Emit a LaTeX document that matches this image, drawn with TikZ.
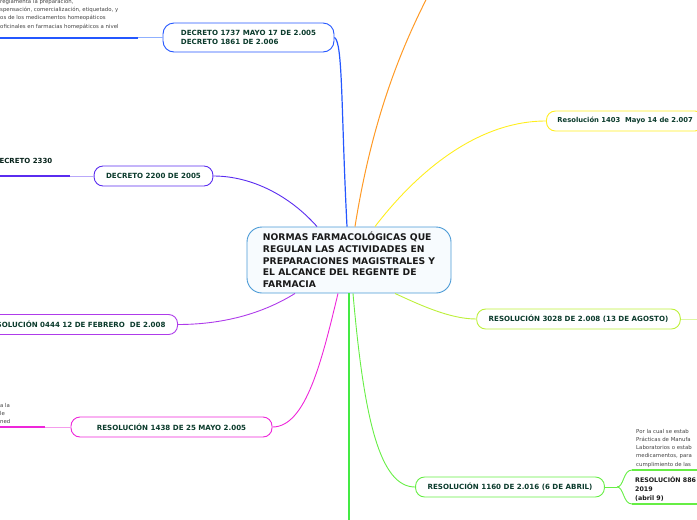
\documentclass[tikz,border=0pt]{standalone}
\usepackage{fontspec}
\setmainfont{DejaVu Sans}
\usetikzlibrary{positioning}
\definecolor{txtgreen}{HTML}{0B3B2C}
\definecolor{centerblue}{HTML}{4A9AD6}
\definecolor{centerfill}{HTML}{F7FBFE}
\definecolor{blueline}{HTML}{2457FF}
\definecolor{bluelight}{HTML}{8FB0FF}
\definecolor{orangeline}{HTML}{FF9A26}
\definecolor{yellowline}{HTML}{FFEE1E}
\definecolor{indigoline}{HTML}{5A2CF0}
\definecolor{indigolight}{HTML}{B9A8FA}
\definecolor{purpleline}{HTML}{AE3BEA}
\definecolor{magentaline}{HTML}{EE26DA}
\definecolor{magentalight}{HTML}{F59CEC}
\definecolor{limeline}{HTML}{BDF03A}
\definecolor{limelight}{HTML}{DDF7A0}
\definecolor{greenline}{HTML}{66EE44}
\definecolor{greenvert}{HTML}{44EA44}
\definecolor{notegray}{HTML}{444444}

\begin{document}
\begin{tikzpicture}[x=1pt,y=-1pt,node distance=2pt,
    topic/.style={draw,rounded corners=9pt,fill=white,line width=0.9pt,
      minimum height=20pt,inner xsep=12pt,text=txtgreen,
      font=\bfseries\fontsize{7.1}{9}\selectfont},
    note/.style={inner sep=0pt,align=left,text=notegray,
      font=\fontsize{5.4}{8.2}\selectfont},
    link/.style={line width=0.9pt},
    under/.style={line width=2pt}]
    \useasboundingbox (0,0) rectangle (697,520);
    \clip (0,0) rectangle (697,520);

    % central topic
    \node[draw=centerblue,fill=centerfill,rounded corners=15pt,line width=0.9pt,
      minimum width=204pt,minimum height=66pt,align=left,text=black!90,
      font=\bfseries\fontsize{9.2}{11.7}\selectfont] (norm) at (349,260)
      {NORMAS FARMACOLÓGICAS QUE\\REGULAN LAS ACTIVIDADES EN\\PREPARACIONES MAGISTRALES Y\\EL ALCANCE DEL REGENTE DE\\FARMACIA};

    % main topics
    \node[topic,draw=blueline,minimum width=171pt,minimum height=29pt,align=left,
      rounded corners=11pt] (d1737) at (248.5,37.5)
      {DECRETO 1737 MAYO 17 DE 2.005\\DECRETO 1861 DE 2.006};
    \node[topic,draw=indigoline,minimum width=117pt] (d2200) at (153.5,176) {DECRETO 2200 DE 2005};
    \node[topic,draw=purpleline,anchor=east] (r0444) at (178,324.5) {RESOLUCIÓN 0444 12 DE FEBRERO\ \ DE 2.008};
    \node[topic,draw=magentaline,minimum width=201pt] (r1438) at (171.5,427) {RESOLUCIÓN 1438 DE 25 MAYO 2.005};
    \node[topic,draw=yellowline,anchor=west,inner xsep=11pt,
      font=\bfseries\fontsize{6.8}{9}\selectfont] (r1403) at (546,121) {Resolución 1403\ \ Mayo 14 de 2.007};
    \node[topic,draw=limeline,minimum width=203pt] (r3028) at (578.5,319) {RESOLUCIÓN 3028 DE 2.008 (13 DE AGOSTO)};
    \node[topic,draw=greenline,minimum width=188pt] (r1160) at (510,487) {RESOLUCIÓN 1160 DE 2.016 (6 DE ABRIL)};

    % branches from the central topic
    \draw[link,blueline,line width=1.2pt] ([xshift=-2pt]norm.north) .. controls (341,110) and (343,42) .. (d1737.east);
    \draw[link,orangeline,line width=1pt] ([xshift=6pt]norm.north) .. controls (372,120) and (400,50) .. (430,-8);
    \draw[link,yellowline] ([xshift=26pt]norm.north) .. controls (420,168) and (480,121) .. (r1403.west);
    \draw[link,indigoline] ([xshift=-32pt]norm.north) .. controls (290,196) and (252,176) .. (d2200.east);
    \draw[link,purpleline] ([xshift=-54pt]norm.south) .. controls (262,314) and (222,324.5) .. (r0444.east);
    \draw[link,magentaline] ([xshift=-11pt]norm.south) .. controls (322,360) and (306,427) .. (r1438.east);
    \draw[link,greenvert,line width=1.3pt] (norm.south) -- (349,530);
    \draw[link,greenline] ([xshift=4pt]norm.south) .. controls (364,420) and (380,487) .. (r1160.west);
    \draw[link,limeline] ([xshift=46pt]norm.south) .. controls (420,305) and (450,319) .. (r3028.west);

    % sub topics, left side
    \coordinate (u1737) at (138,37.5);
    \draw[link,bluelight] (d1737.west) -- (u1737);
    \draw[under,blueline] (u1737) -- (-5,37.5);
    \node[note,anchor=north west] (t1737) at (0,-1)
      {reglamenta la preparación,\\spensación, comercialización, etiquetado, y\\os de los medicamentos homeopáticos\\oficinales en farmacias homepáticos a nivel};

    \coordinate (u2200) at (70,176);
    \draw[link,indigolight] (d2200.west) -- (u2200);
    \draw[under,indigoline] (u2200) -- (-5,176);
    \node[anchor=south west,inner sep=0pt,text=txtgreen!60!black,
      font=\bfseries\fontsize{7}{9}\selectfont] (d2330) at (-6.5,163.5) {DECRETO 2330};

    \coordinate (u1438) at (45,427);
    \draw[link,magentalight] (r1438.west) -- (u1438);
    \draw[under,magentaline] (u1438) -- (-5,427);
    \node[note,anchor=south west] (t1438) at (0,424) {a la\\le\\ned};

    % sub topics, right side
    \draw[link,limelight] (r3028.east) -- (700,319);

    \coordinate (fork) at (617,487);
    \draw[link,greenline] (r1160.east) -- (fork);
    \draw[link,greenline] (fork) .. controls (624,487) and (623,470) .. (632,470);
    \draw[link,greenline] (fork) .. controls (624,487) and (623,504) .. (632,504);
    \draw[under,greenline] (632,470) -- (700,470);
    \draw[under,greenline] (632,504) -- (700,504);
    \node[note,anchor=south west] (t886) at (636,467.5)
      {Por la cual se estab\\Prácticas de Manufa\\Laboratorios o estab\\medicamentos, para\\cumplimiento de las};
    \node[anchor=south west,inner sep=0pt,align=left,text=black!90,
      font=\bfseries\fontsize{6.3}{8.8}\selectfont] (r886) at (635,501.5)
      {RESOLUCIÓN 886\\2019\\(abril 9)};
\end{tikzpicture}
\end{document}
